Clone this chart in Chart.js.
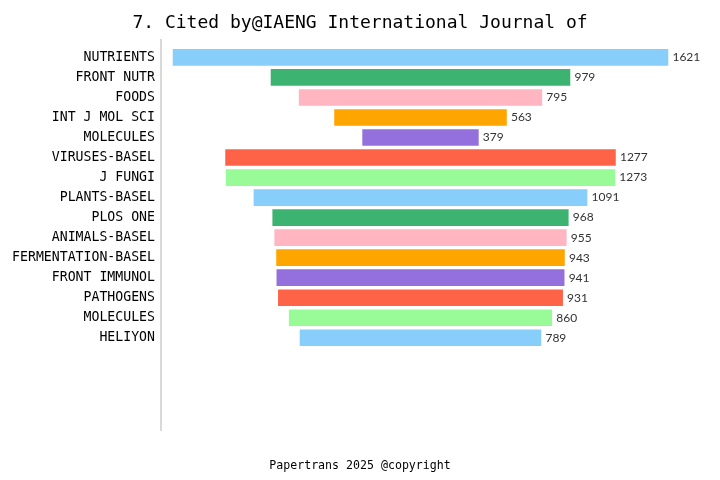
<!DOCTYPE html>
<html>
<head>
<meta charset="utf-8">
<script src="https://cdn.jsdelivr.net/npm/chart.js@4"></script>
<style>
html,body{margin:0;padding:0;background:#fff;}
#wrap{width:720px;height:480px;}
</style>
</head>
<body>
<div id="wrap"><canvas id="c" width="720" height="480"></canvas></div>
<script>
const categories = ["NUTRIENTS","FRONT NUTR","FOODS","INT J MOL SCI","MOLECULES","VIRUSES-BASEL","J FUNGI","PLANTS-BASEL","PLOS ONE","ANIMALS-BASEL","FERMENTATION-BASEL","FRONT IMMUNOL","PATHOGENS","MOLECULES","HELIYON"];
const citations = [1621,979,795,563,379,1277,1273,1091,968,955,943,941,931,860,789];
const palette = ["#87CEFA","#3CB371","#FFB6C1","#FFA500","#9370DB","#FF6347","#98FB98"];
const titleText = "7. Cited by@IAENG International Journal of";
const footerText = "Papertrans 2025 @copyright";

const valueLabels = {
  id: 'valueLabels',
  afterDatasetsDraw(chart) {
    const ctx = chart.ctx;
    const meta = chart.getDatasetMeta(0);
    ctx.save();
    ctx.font = '12px "Lato"';
    ctx.fillStyle = '#333';
    ctx.textAlign = 'left';
    ctx.textBaseline = 'middle';
    meta.data.forEach((bar, i) => {
      const right = Math.max(bar.x, bar.base);
      ctx.fillText(String(citations[i]), right + 4.5, bar.y);
    });
    ctx.restore();
  }
};

new Chart(document.getElementById('c'), {
  type: 'bar',
  data: {
    datasets: [{
      data: citations.map((v, i) => ({ x: [-v / 2, v / 2], y: i })),
      backgroundColor: categories.map((_, i) => palette[i % palette.length]),
      borderWidth: 0,
      barThickness: 16
    }]
  },
  options: {
    responsive: false,
    animation: false,
    indexAxis: 'y',
    layout: { padding: 0 },
    plugins: {
      legend: { display: false },
      tooltip: { enabled: false },
      title: {
        display: true,
        text: titleText,
        color: '#000',
        font: { family: '"DejaVu Sans Mono"', size: 18, weight: 'normal' },
        padding: { top: 13, bottom: 5 }
      },
      subtitle: {
        display: true,
        position: 'bottom',
        text: footerText,
        color: '#000',
        font: { family: '"DejaVu Sans Mono"', size: 11.6, weight: 'normal' },
        padding: { top: 29, bottom: 7 }
      }
    },
    scales: {
      x: {
        type: 'linear',
        display: false,
        min: -850,
        max: 981
      },
      y: {
        type: 'linear',
        reverse: true,
        offset: false,
        bounds: 'data',
        min: -0.89,
        max: 18.61,
        afterBuildTicks: (scale) => { scale.ticks = categories.map((_, i) => ({ value: i })); },
        afterFit: (scale) => { scale.width = 161; },
        grid: { display: false, drawTicks: false },
        border: { display: true, color: '#d9d9d9', width: 2 },
        ticks: {
          autoSkip: false,
          padding: 6,
          color: '#000',
          font: { family: '"DejaVu Sans Mono"', size: 13.2 },
          callback: (v) => categories[v] !== undefined ? categories[v] : ''
        }
      }
    }
  },
  plugins: [valueLabels]
});
</script>
</body>
</html>
